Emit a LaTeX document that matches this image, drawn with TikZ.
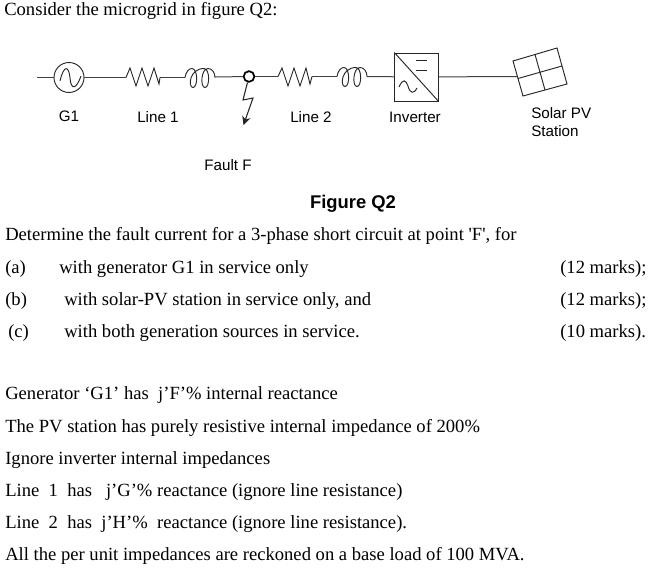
\documentclass[tikz,border=0pt]{standalone}
\usepackage{fontspec}
\setmainfont{Liberation Serif}
\newfontfamily\plainq{Liberation Serif}
\newfontfamily\lsans{Liberation Sans}
\usetikzlibrary{arrows.meta}
\tikzset{
  body/.style={anchor=base west,inner sep=0pt,font=\fontsize{13.95pt}{16pt}\selectfont},
  lab/.style={anchor=base,inner sep=0pt,font=\lsans\fontsize{11.4pt}{13pt}\selectfont,align=left},
  wire/.style={line width=0.75pt,draw=black!75},
  sym/.style={line width=0.7pt,draw=black!85},
  coil/.pic={
    \draw[sym] (-15,0) .. controls (-14,-6) and (-11,-9) .. (-8,-9)
      .. controls (-2,-9) and (-2,10) .. (-7,10)
      .. controls (-12,10) and (-11,-9) .. (4,-9)
      .. controls (10,-9) and (10,10) .. (5,10)
      .. controls (0,10) and (1,-9) .. (8,-9)
      .. controls (12,-9) and (15,-5) .. (15,0);
  },
}
\begin{document}
\begin{tikzpicture}[x=0.75pt,y=-0.75pt]
\useasboundingbox (0,0) rectangle (653,578);
\fill[white] (0,0) rectangle (653,578);
% nodes
\node[draw=black!85,line width=0.7pt,circle,minimum size=22.5pt,inner sep=0pt] (gen) at (69,77.5) {};
\node[draw=black,line width=1.3pt,circle,minimum size=8pt,inner sep=0pt,fill=white] (bus) at (249,76.5) {};
\node[draw=black!85,line width=0.7pt,minimum width=32.5pt,minimum height=36pt,inner sep=0pt] (inv) at (416.5,77) {};
\coordinate (in) at (37,77.5);
\coordinate (pv) at (517,76.5);
% wires
\draw[wire] (in) -- (gen);
\draw[wire] (gen) -- (126,77.5);
\draw[sym] (126,77.5) -- (130,68) -- (136,86) -- (142,68) -- (148,86) -- (154,68) -- (159,84) -- (160,77.5);
\draw[wire] (160,77.5) -- (185,77.5);
\pic at (200,77.5) {coil};
\draw[wire] (215,77) -- (bus);
\draw[wire] (bus) -- (278,76.5);
\draw[sym] (278,76.5) -- (282,68) -- (288,86) -- (294,68) -- (300,86) -- (306,68) -- (310,84) -- (312,76.5);
\draw[wire] (312,76.5) -- (337,76.5);
\pic at (352,76.5) {coil};
\draw[wire] (367,76.5) -- (inv);
\draw[wire] (inv) -- (pv);
% generator sine
\draw[sym] (60,81) .. controls (64,64) and (69,66) .. (70,78) .. controls (71,90) and (76,90) .. (81,76);
% inverter
\draw[sym] (inv.north west) -- (inv.south east);
\draw[sym] (416,60.5) -- (427,60.5) (416,70) -- (427,70);
\draw[sym] (399,87) .. controls (403,78) and (406,80) .. (408,86) .. controls (410,94) and (414,94) .. (417,88);
% PV
\draw[sym] (513,61) -- (557,48) -- (567,84) -- (523,96) -- cycle;
\draw[sym] (535,54.5) -- (545,90) (518,78.5) -- (562,66);
% fault
\draw[sym,line width=0.8pt,-{Stealth[length=6.5pt,width=6.5pt]}] (bus) -- (243,100) -- (253,98) -- (243.5,125);
% diagram labels
\node[lab] (g1) at (69,121) {G1};
\node[lab] (l1) at (158,122) {Line 1};
\node[lab] (l2) at (311,122) {Line 2};
\node[lab] (il) at (415,122) {Inverter};
\node[lab,anchor=base west] (s1) at (531,118) {Solar PV};
\node[lab,anchor=base west] (s2) at (531,136) {Station};
\node[lab] (ff) at (228,170) {Fault F};
\node[lab,font=\lsans\bfseries\fontsize{13.8pt}{16pt}\selectfont] (fig) at (353,208) {Figure Q2};
% text
\node[body] (t0) at (4,15) {Consider the microgrid in figure Q2:};
\node[body] (t1) at (5,240) {Determine the fault current for a 3-phase short circuit at point {\plainq 'F'}, for};
\node[body] (a) at (5,273) {(a)};
\node[body] (at) at (59,273) {with generator G1 in service only};
\node[body] (am) at (560,273) {(12 marks);};
\node[body] (b) at (5,305) {(b)};
\node[body] (bt) at (64,305) {with solar-PV station in service only, and};
\node[body] (bm) at (560,305) {(12 marks);};
\node[body] (c) at (8,337) {(c)};
\node[body] (ct) at (64,337) {with both generation sources in service.};
\node[body] (cm) at (560,337) {(10 marks).};
\node[body] (p1) at (5,399) {Generator ‘G1’ has\ \ j’F’\% internal reactance};
\node[body] (p2) at (5,432) {The PV station has purely resistive internal impedance of 200\%};
\node[body] (p3) at (5,464) {Ignore inverter internal impedances};
\node[body] (p4) at (5,496) {Line\ \ 1\ \ has\ \ \ j’G’\% reactance (ignore line resistance)};
\node[body] (p5) at (5,528) {Line\ \ 2\ \ has\ \ j’H’\%\ \ reactance (ignore line resistance).};
\node[body] (p6) at (5,560) {All the per unit impedances are reckoned on a base load of 100 MVA.};
\end{tikzpicture}
\end{document}
